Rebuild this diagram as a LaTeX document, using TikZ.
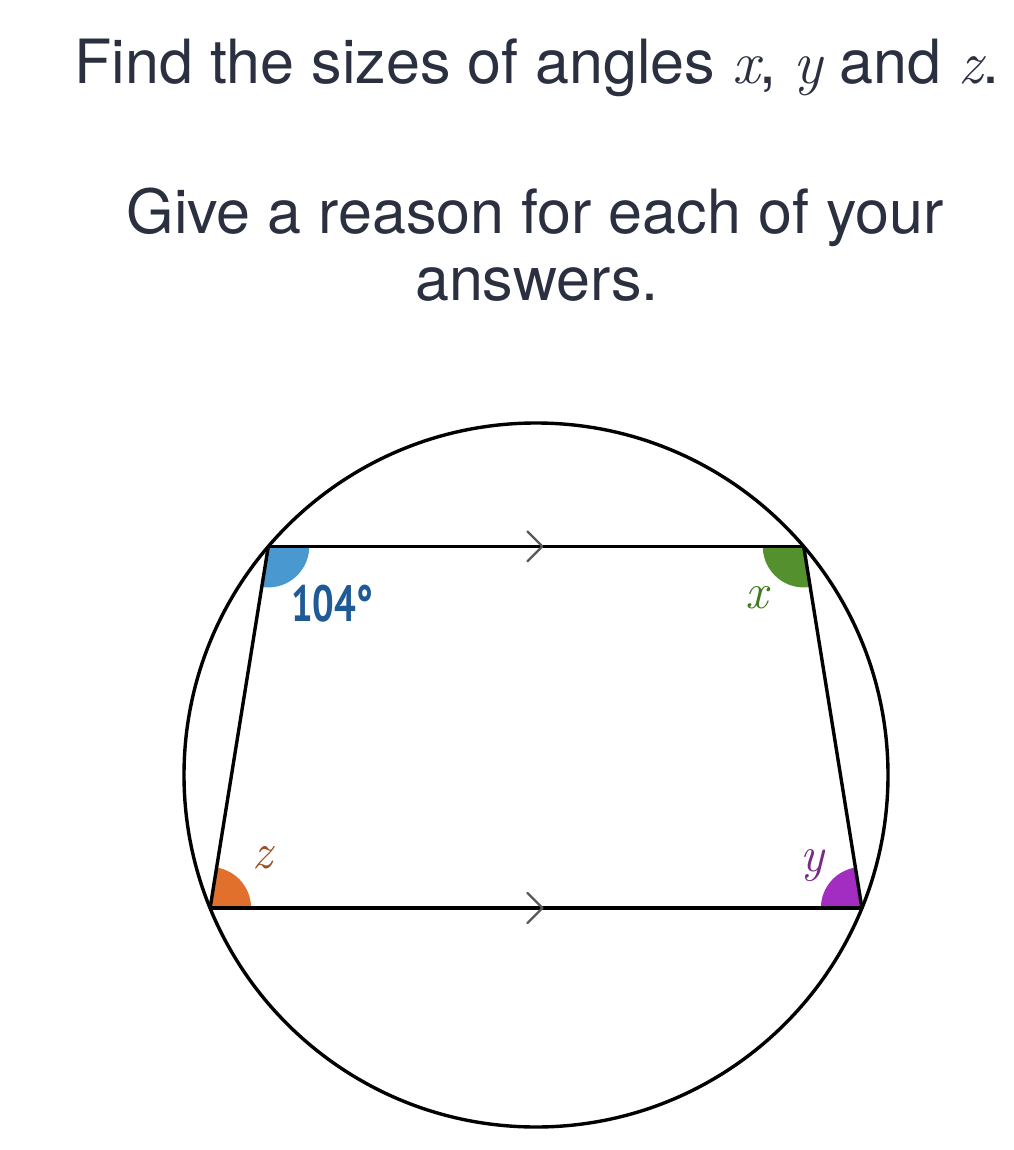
\documentclass[tikz,border=0pt]{standalone}
\usepackage{fontspec}
\setmainfont{TeX Gyre Heros}
\newfontfamily\labelfont{PT Sans}
\newfontfamily\lmfont{Latin Modern Roman}
\newcommand{\mv}[1]{{\lmfont\itshape #1}}
\usetikzlibrary{decorations.markings}
\definecolor{txt}{HTML}{2B3040}
\definecolor{ablue}{HTML}{4A98D0}
\definecolor{agreen}{HTML}{55902F}
\definecolor{aorange}{HTML}{E0702C}
\definecolor{apurple}{HTML}{A32DC0}
\definecolor{lblue}{HTML}{1E5A96}
\definecolor{lgreen}{HTML}{3E7A1E}
\definecolor{lorange}{HTML}{9C4E1C}
\definecolor{lpurple}{HTML}{7A2A86}
\tikzset{
  title/.style={anchor=base, text=txt, font=\fontsize{61}{66}\selectfont, inner sep=0pt},
  edge/.style={line width=3.4pt, black},
  chev/.style={line width=2.3pt, gray!70!black, line cap=round, line join=round},
  parmark/.style={postaction={decorate, decoration={markings,
    mark=at position #1 with {\draw[chev] (-15pt,15pt) -- (0pt,0pt) -- (-15pt,-15pt);}}}},
  anglelbl/.style={inner sep=0pt, font=\fontsize{50}{50}\selectfont},
}
\begin{document}
\begin{tikzpicture}[x=1pt,y=1pt]
\useasboundingbox (0,0) rectangle (1013,-1150);
% title texts
\node[title] (t1) at (537,-84) {Find the sizes of angles \mv{x}, \mv{y} and \mv{z}.};
\node[title] (t2) at (535,-234) {Give a reason for each of your};
\node[title] (t3) at (537,-300) {answers.};
% geometry
\coordinate (O) at (536,-775);
\coordinate (A) at (268.3,-546.4);
\coordinate (B) at (803.7,-546.4);
\coordinate (C) at (861.9,-908);
\coordinate (D) at (210.1,-908);
% angle sectors
\fill[ablue] (A) -- ++(0:41) arc[start angle=0, end angle=-99.1, radius=41] -- cycle;
\fill[agreen] (B) -- ++(180:41) arc[start angle=180, end angle=279.1, radius=41] -- cycle;
\fill[apurple] (C) -- ++(99.1:41) arc[start angle=99.1, end angle=180, radius=41] -- cycle;
\fill[aorange] (D) -- ++(0:41) arc[start angle=0, end angle=80.9, radius=41] -- cycle;
% circle
\draw[edge] (O) circle[radius=352];
% trapezoid
\draw[edge, parmark=0.512] (A) -- (B);
\draw[edge] (B) -- (C);
\draw[edge, parmark=0.51] (D) -- (C);
\draw[edge] (D) -- (A);
% labels
\node[inner sep=0pt, text=lblue, font=\labelfont\bfseries\fontsize{51}{51}\selectfont] (l104) at (332,-604) {\scalebox{0.75}[1]{104°}};
\node[anglelbl, text=lgreen] (lx) at (757,-598) {\mv{x}};
\node[anglelbl, text=lorange] (lz) at (262,-858) {\mv{z}};
\node[anglelbl, text=lpurple] (ly) at (812,-866) {\mv{y}};
\end{tikzpicture}
\end{document}
